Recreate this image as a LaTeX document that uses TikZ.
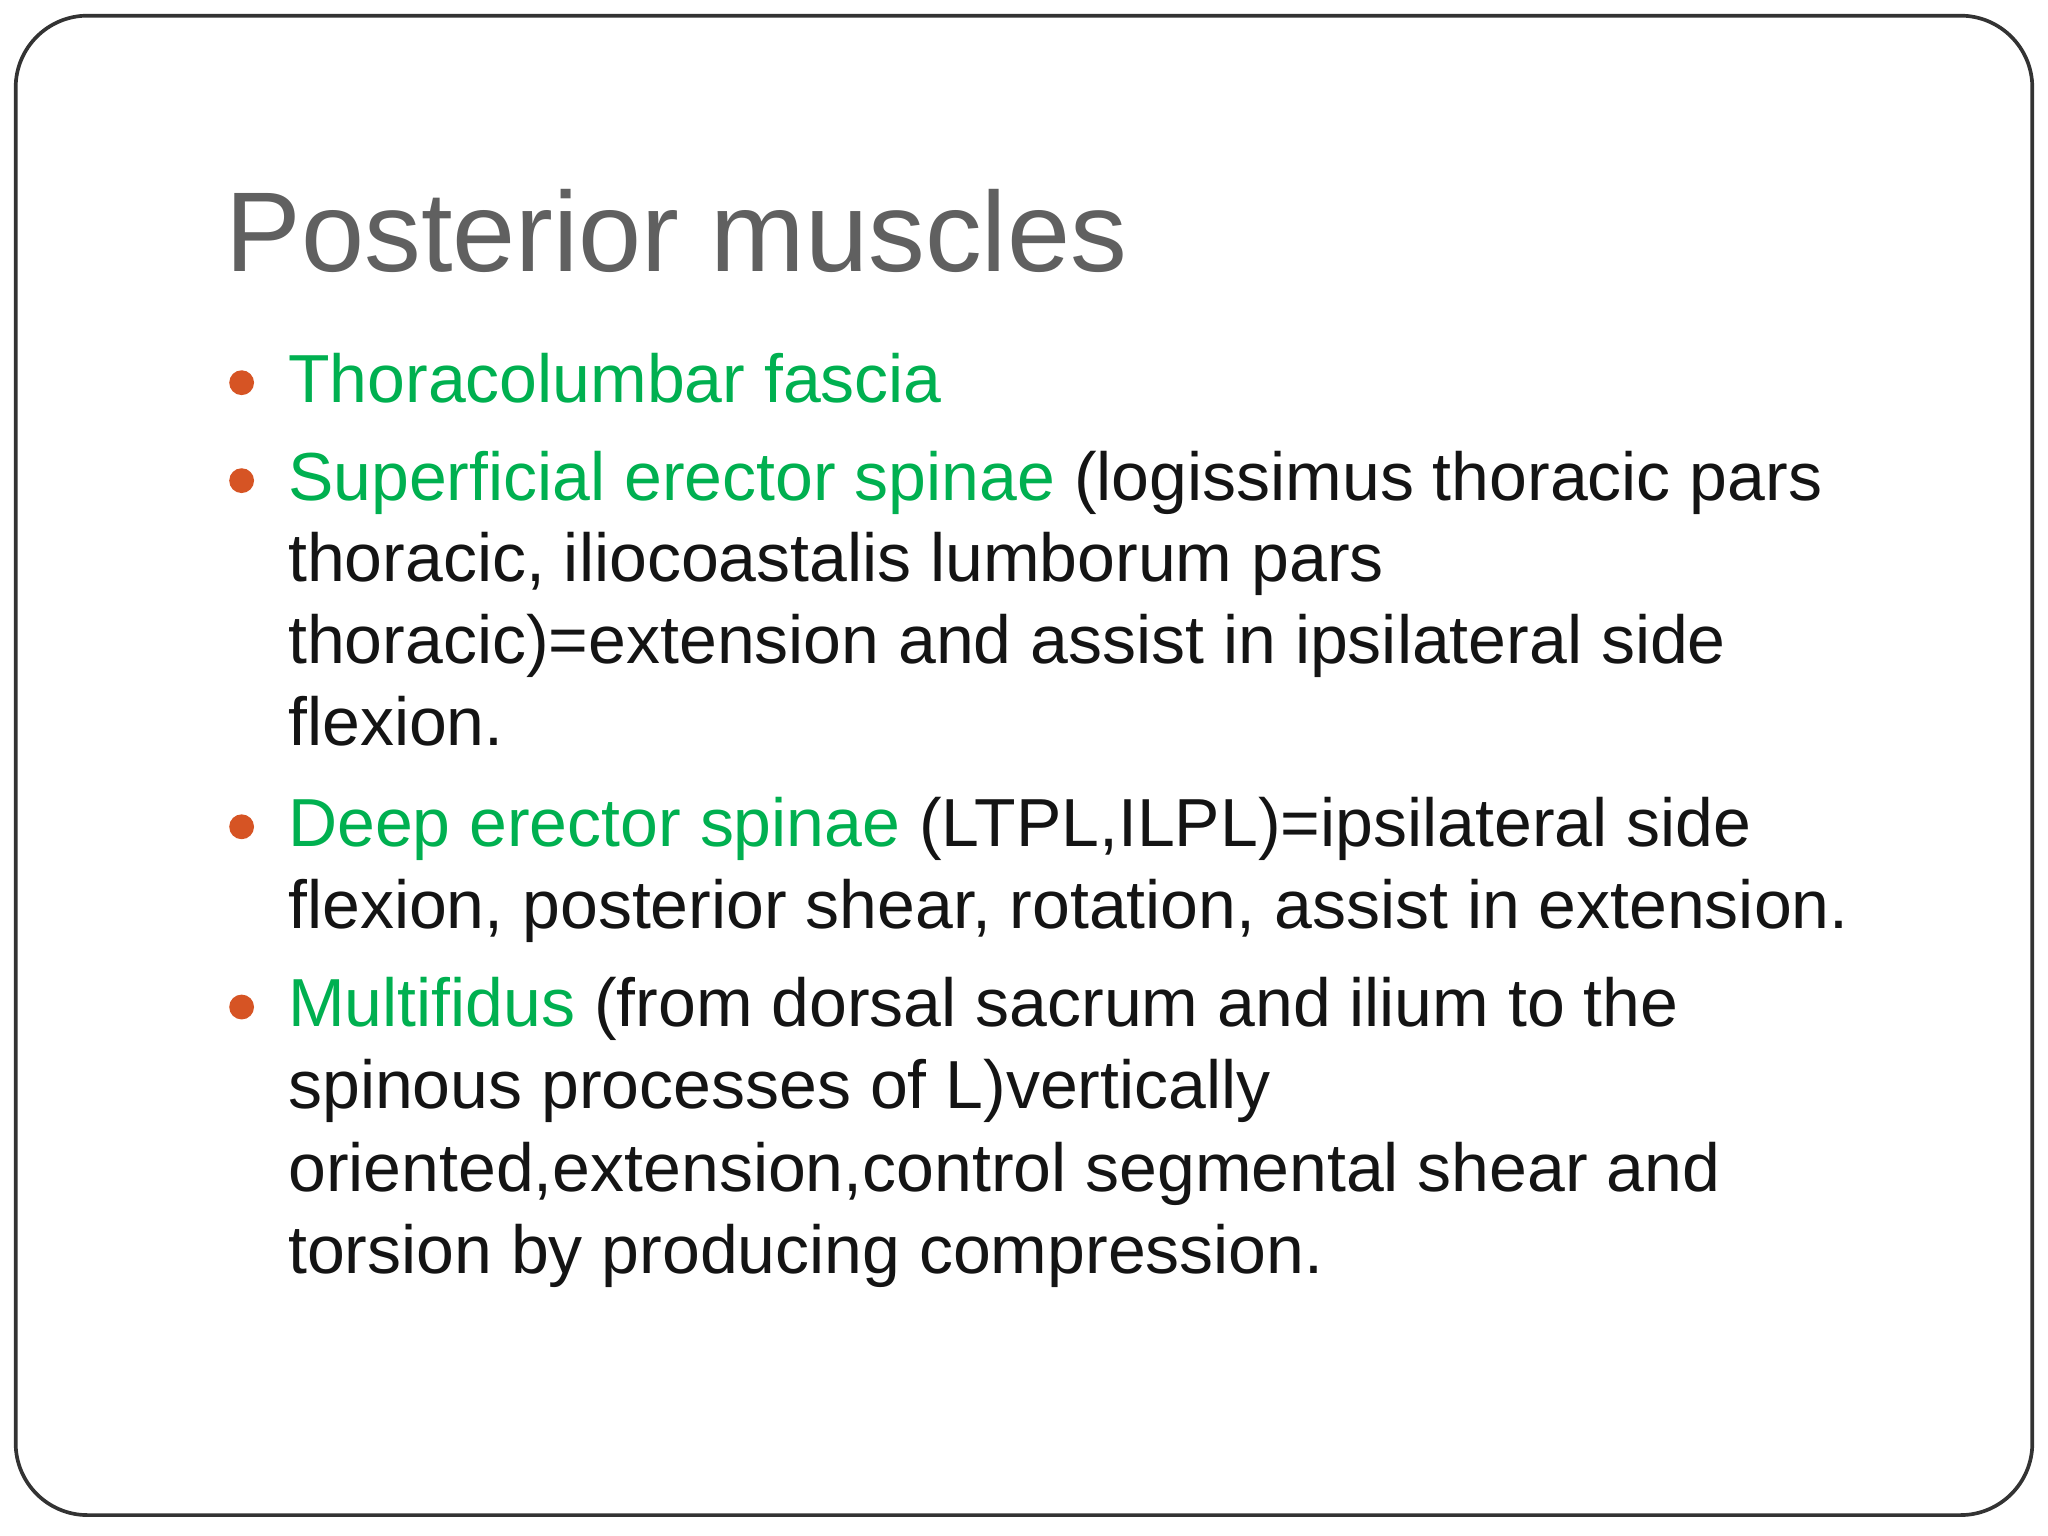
\documentclass[tikz,border=0pt]{standalone}
\usepackage{fontspec}
\setmainfont{Liberation Sans}
\definecolor{grn}{RGB}{0,176,80}
\definecolor{bul}{RGB}{214,84,36}
\definecolor{ttl}{RGB}{96,96,96}
\definecolor{txt}{RGB}{20,20,20}
\begin{document}
\begin{tikzpicture}[x=0.01cm,y=-0.01cm,
  line/.style={anchor=base west,inner sep=0pt,font=\fontsize{14.8pt}{17pt}\selectfont,text=txt},
  dot/.style={circle,fill=bul,inner sep=0pt,minimum size=0.19cm}]
\useasboundingbox (0,0) rectangle (1568,1176);
\draw[line width=0.8pt,rounded corners=0.55cm,color=black!80] (12,12) rectangle (1556,1160);
\node[anchor=base west,inner sep=0pt,font=\fontsize{24.7pt}{28pt}\selectfont,text=ttl] (t) at (172,208) {Posterior muscles};
\node[dot] (b1) at (185,293) {};
\node[line] (l1) at (220,308) {\textcolor{grn}{Thoracolumbar fascia}};
\node[dot] (b2) at (185,368) {};
\node[line] (l2) at (220,383) {\textcolor{grn}{Superficial erector spinae} (logissimus thoracic pars};
\node[line] (l3) at (220,445) {thoracic, iliocoastalis lumborum pars};
\node[line] (l4) at (220,508) {thoracic)=extension and assist in ipsilateral side};
\node[line] (l5) at (220,571) {flexion.};
\node[dot] (b3) at (185,633) {};
\node[line] (l6) at (220,648) {\textcolor{grn}{Deep erector spinae} (LTPL,ILPL)=ipsilateral side};
\node[line] (l7) at (220,711) {flexion, posterior shear, rotation, assist in extension.};
\node[dot] (b4) at (185,771) {};
\node[line] (l8) at (220,786) {\textcolor{grn}{Multifidus} (from dorsal sacrum and ilium to the};
\node[line] (l9) at (220,849) {spinous processes of L)vertically};
\node[line] (l10) at (220,912) {oriented,extension,control segmental shear and};
\node[line] (l11) at (220,975) {torsion by producing compression.};
\end{tikzpicture}
\end{document}
